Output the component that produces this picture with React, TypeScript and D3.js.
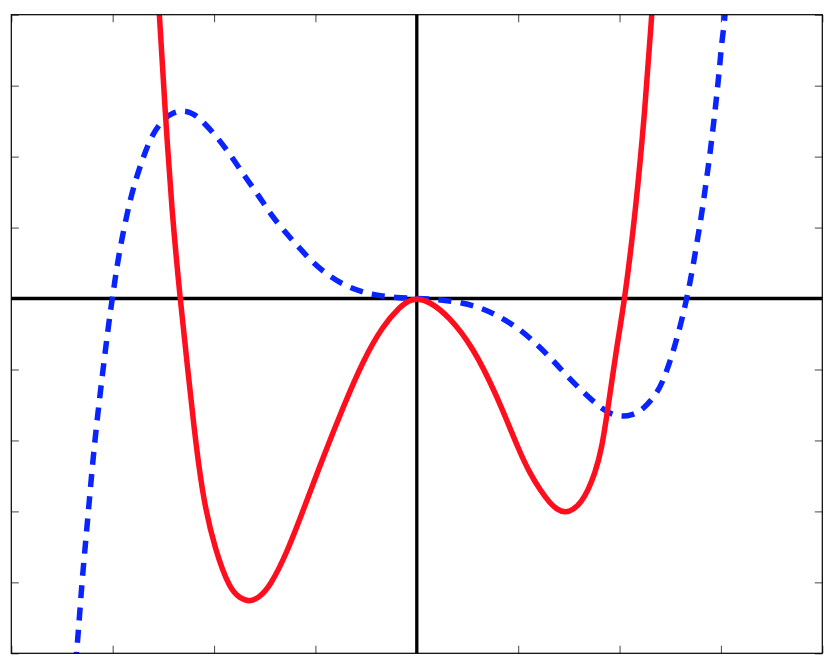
import React, { useEffect, useRef } from "react";
import * as d3 from "d3";

// Tick positions (no tick labels in the reference)
const xTickValues = [-4, -3, -2, -1, 0, 1, 2, 3, 4];
const yTickValues = [-5, -4, -3, -2, -1, 0, 1, 2, 3, 4];

// Blue dashed curve
const blueX = [
  -3.366, -3.334, -3.302, -3.262, -3.223, -3.183, -3.134, -3.082, -3.026, -2.993,
  -2.966, -2.927, -2.878, -2.828, -2.769, -2.697, -2.614, -2.5, -2.4, -2.303,
  -2.2, -2.106, -1.958, -1.825, -1.694, -1.563, -1.448, -1.317, -1.169, -1.021,
  -0.856, -0.659, -0.429, -0.198, 0, 0.189, 0.453, 0.65, 0.847, 1.028,
  1.192, 1.34, 1.488, 1.652, 1.817, 1.93, 2.031, 2.13, 2.228, 2.376,
  2.458, 2.524, 2.589, 2.645, 2.687, 2.727, 2.763, 2.8, 2.832, 2.862,
  2.892, 2.918, 2.944, 2.967, 2.99, 3.007, 3.039, 3.05,
];
const blueY = [
  -5.162, -4.613, -3.979, -3.355, -2.73, -2.096, -1.468, -0.842, -0.208, 0.096,
  0.377, 0.707, 1.059, 1.387, 1.693, 1.997, 2.303, 2.53, 2.625, 2.655,
  2.609, 2.49, 2.256, 1.997, 1.715, 1.458, 1.2, 0.965, 0.73, 0.496,
  0.307, 0.144, 0.049, 0.011, 0, -0.011, -0.059, -0.138, -0.279, -0.444,
  -0.655, -0.866, -1.101, -1.335, -1.546, -1.64, -1.665, -1.64, -1.57, -1.335,
  -1.054, -0.772, -0.444, -0.115, 0.166, 0.472, 0.786, 1.096, 1.411, 1.725,
  2.035, 2.349, 2.665, 2.983, 3.299, 3.608, 3.923, 4.25,
];

// Red solid curve
const redX = [
  -2.55, -2.539, -2.483, -2.417, -2.335, -2.262, -2.192, -2.107, -1.99, -1.842,
  -1.744, -1.652, -1.563, -1.448, -1.283, -1.119, -0.922, -0.725, -0.528, -0.33,
  -0.166, -0.08, 0, 0.12, 0.321, 0.551, 0.781, 1.018, 1.116, 1.215,
  1.314, 1.38, 1.462, 1.543, 1.626, 1.691, 1.757, 1.823, 1.888, 1.972,
  2.053, 2.159, 2.251, 2.317, 2.33,
];
const redY = [
  4.25, 3.993, 2.655, 1.246, 0, -0.961, -1.899, -2.838, -3.542, -4.106,
  -4.223, -4.275, -4.223, -4.059, -3.589, -2.979, -2.228, -1.524, -0.866, -0.373,
  -0.115, -0.027, 0, -0.036, -0.256, -0.679, -1.335, -2.18, -2.462, -2.697,
  -2.885, -2.969, -3.022, -2.979, -2.862, -2.697, -2.462, -2.134, -1.524, -0.679,
  0, 1.246, 2.655, 3.993, 4.25,
];

const W = 836;
const H = 672;
const PLOT = { left: 11.3, top: 14.7, right: 822.3, bottom: 653.3 };

export default function App() {
  const ref = useRef<SVGSVGElement>(null);

  useEffect(() => {
    const svg = d3.select(ref.current);
    svg.selectAll("*").remove();

    const x = d3.scaleLinear().domain([-4, 4]).range([PLOT.left, PLOT.right]);
    const y = d3.scaleLinear().domain([-5, 4]).range([PLOT.bottom, PLOT.top]);

    svg
      .append("defs")
      .append("clipPath")
      .attr("id", "plot-clip")
      .append("rect")
      .attr("x", PLOT.left)
      .attr("y", PLOT.top)
      .attr("width", PLOT.right - PLOT.left)
      .attr("height", PLOT.bottom - PLOT.top);

    svg
      .append("rect")
      .attr("x", PLOT.left)
      .attr("y", PLOT.top)
      .attr("width", PLOT.right - PLOT.left)
      .attr("height", PLOT.bottom - PLOT.top)
      .attr("fill", "#ffffff");

    const tickLen = 7.5;
    const styleAxis = (g: any) => {
      g.select(".domain").remove();
      g.selectAll("text").remove();
      g.attr("color", "#555555");
      g.selectAll("line").attr("stroke-width", 1.1);
    };

    svg
      .append("g")
      .attr("transform", `translate(0,${y(-5)})`)
      .call(d3.axisBottom(x).tickValues(xTickValues).tickSize(-tickLen).tickFormat(() => ""))
      .call(styleAxis);
    svg
      .append("g")
      .attr("transform", `translate(0,${y(4)})`)
      .call(d3.axisTop(x).tickValues(xTickValues).tickSize(-tickLen).tickFormat(() => ""))
      .call(styleAxis);
    svg
      .append("g")
      .attr("transform", `translate(${x(-4)},0)`)
      .call(d3.axisLeft(y).tickValues(yTickValues).tickSize(-tickLen).tickFormat(() => ""))
      .call(styleAxis);
    svg
      .append("g")
      .attr("transform", `translate(${x(4)},0)`)
      .call(d3.axisRight(y).tickValues(yTickValues).tickSize(-tickLen).tickFormat(() => ""))
      .call(styleAxis);

    // zero axes
    svg
      .append("line")
      .attr("x1", x(-4))
      .attr("x2", x(4))
      .attr("y1", y(0))
      .attr("y2", y(0))
      .attr("stroke", "#000")
      .attr("stroke-width", 3.3);
    svg
      .append("line")
      .attr("x1", x(0))
      .attr("x2", x(0))
      .attr("y1", y(-5))
      .attr("y2", y(4))
      .attr("stroke", "#000")
      .attr("stroke-width", 3.3);

    const line = d3
      .line<number[]>()
      .x((d) => d[0])
      .y((d) => d[1])
      .curve(d3.curveBasis);

    const bluePts = blueX.map((v, i) => [x(v), y(blueY[i])]);
    const redPts = redX.map((v, i) => [x(v), y(redY[i])]);

    const curves = svg.append("g").attr("clip-path", "url(#plot-clip)");
    curves
      .append("path")
      .attr("d", line(bluePts))
      .attr("fill", "none")
      .attr("stroke", "#0a24ff")
      .attr("stroke-width", 5.5)
      .attr("stroke-dasharray", "13 9.3");
    curves
      .append("path")
      .attr("d", line(redPts))
      .attr("fill", "none")
      .attr("stroke", "#ff0f1e")
      .attr("stroke-width", 5.5)
      .attr("stroke-linejoin", "round");

    // frame
    svg
      .append("rect")
      .attr("x", PLOT.left)
      .attr("y", PLOT.top)
      .attr("width", PLOT.right - PLOT.left)
      .attr("height", PLOT.bottom - PLOT.top)
      .attr("fill", "none")
      .attr("stroke", "#000")
      .attr("stroke-width", 1.2);
  }, []);

  return (
    <svg
      ref={ref}
      width={W}
      height={H}
      style={{ position: "absolute", left: 0, top: 0, background: "#ffffff" }}
    />
  );
}
